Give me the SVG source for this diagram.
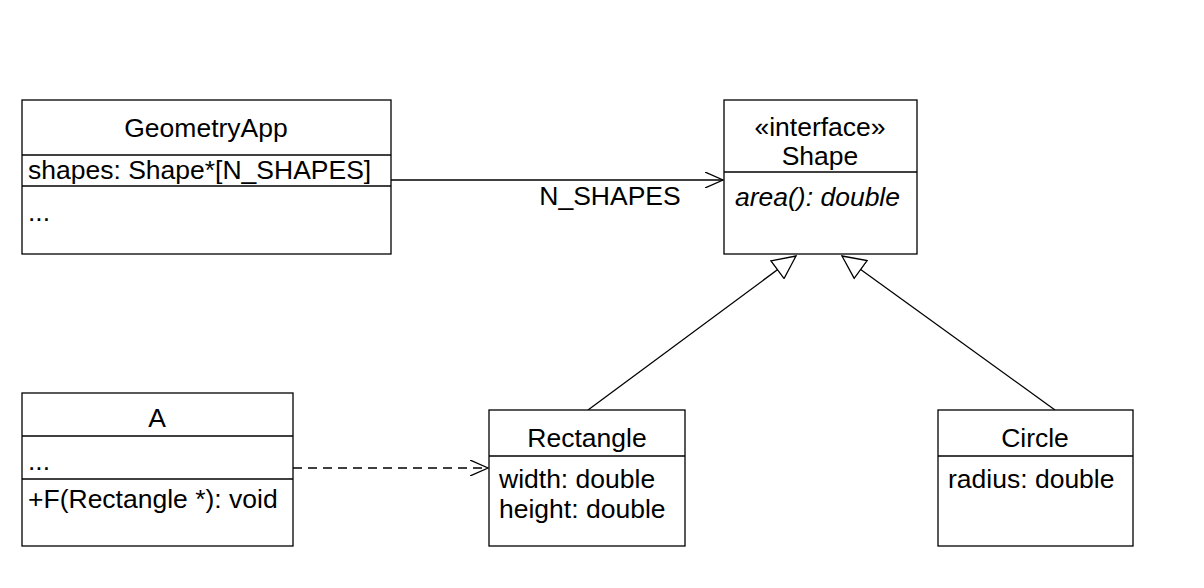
<svg xmlns="http://www.w3.org/2000/svg" width="1204" height="588" viewBox="0 0 1204 588">
<style>
.b{fill:#fff;stroke:#000;stroke-width:1.3}
.l{stroke:#000;stroke-width:1.3}
text{font-family:"Liberation Sans",Arial,sans-serif;font-size:26.5px;fill:#000}
.c{text-anchor:middle}
</style>
<defs>
<marker id="open" markerWidth="20" markerHeight="16" refX="18" refY="8" orient="auto" markerUnits="userSpaceOnUse"><path d="M0,0 L18,8 L0,16" fill="none" stroke="#000" stroke-width="1.3"/></marker>
<marker id="tri" markerWidth="26" markerHeight="24" refX="24" refY="12" orient="auto" markerUnits="userSpaceOnUse"><path d="M1,1 L24,12 L1,23 Z" fill="#fff" stroke="#000" stroke-width="1.3"/></marker>
</defs>
<rect width="1204" height="588" fill="#fff"/>
<g id="connectors" fill="none">
<line class="l" x1="391" y1="180" x2="723" y2="180" marker-end="url(#open)"/>
<text x="610" y="205" class="c">N_SHAPES</text>
<line class="l" x1="293" y1="468" x2="488" y2="468" stroke-dasharray="9,6" marker-end="url(#open)"/>
<line class="l" x1="588" y1="410" x2="796" y2="256" marker-end="url(#tri)"/>
<line class="l" x1="1055" y1="410" x2="842" y2="256" marker-end="url(#tri)"/>
</g>
<g id="GeometryApp">
<rect class="b" x="22" y="100" width="369" height="154"/>
<text x="206" y="137" class="c">GeometryApp</text>
<line class="l" x1="22" y1="155" x2="391" y2="155"/>
<text x="28" y="179">shapes: Shape*[N_SHAPES]</text>
<line class="l" x1="22" y1="186" x2="391" y2="186"/>
<text x="28" y="221">...</text>
</g>
<g id="Shape">
<rect class="b" x="724" y="100" width="193" height="154"/>
<text x="820" y="136" class="c">«interface»</text>
<text x="820" y="165" class="c">Shape</text>
<line class="l" x1="724" y1="172" x2="917" y2="172"/>
<text x="735" y="206" font-style="italic">area(): double</text>
</g>
<g id="A">
<rect class="b" x="22" y="393" width="271" height="153"/>
<text x="157" y="427" class="c">A</text>
<line class="l" x1="22" y1="436" x2="293" y2="436"/>
<text x="28" y="470">...</text>
<line class="l" x1="22" y1="479" x2="293" y2="479"/>
<text x="28" y="508">+F(Rectangle *): void</text>
</g>
<g id="Rectangle">
<rect class="b" x="489" y="410" width="196" height="136"/>
<text x="587" y="447" class="c">Rectangle</text>
<line class="l" x1="489" y1="456" x2="685" y2="456"/>
<text x="499" y="488">width: double</text>
<text x="499" y="518">height: double</text>
</g>
<g id="Circle">
<rect class="b" x="938" y="410" width="195" height="136"/>
<text x="1035" y="447" class="c">Circle</text>
<line class="l" x1="938" y1="456" x2="1133" y2="456"/>
<text x="948" y="488">radius: double</text>
</g>
</svg>
